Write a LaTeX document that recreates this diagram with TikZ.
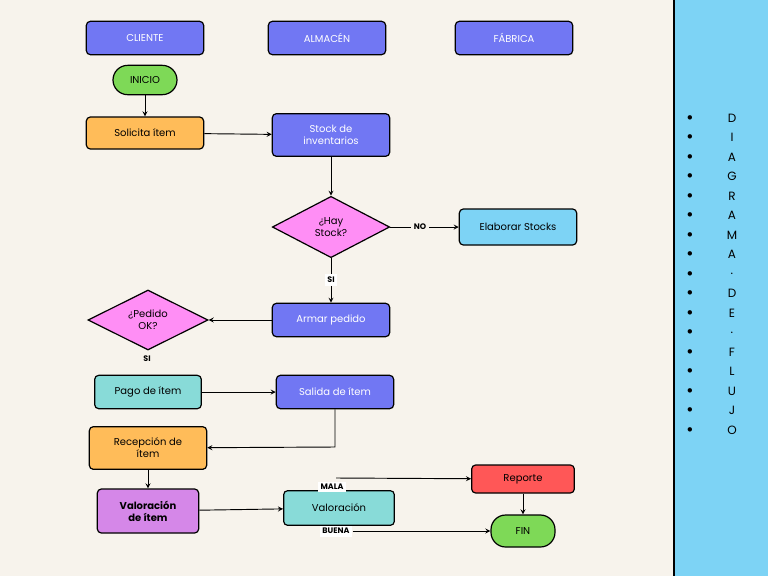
\documentclass[tikz,border=0pt]{standalone}
\usepackage{fontspec}
\setmainfont{Poppins}
\usetikzlibrary{shapes.geometric}
\definecolor{fondo}{HTML}{F7F3EC}
\definecolor{azul}{HTML}{7177F3}
\definecolor{celeste}{HTML}{7DD3F5}
\definecolor{naranja}{HTML}{FFBC59}
\definecolor{verde}{HTML}{7ED957}
\definecolor{rosa}{HTML}{FF8EF5}
\definecolor{turq}{HTML}{88DBD8}
\definecolor{lila}{HTML}{D587E8}
\definecolor{rojo}{HTML}{FF5757}
\tikzset{
  caja/.style={draw=black, line width=0.9pt, rounded corners=3pt, align=center,
    font=\fontsize{7.5}{9}\selectfont, inner sep=2pt},
  titulo/.style={caja, fill=azul, text=white, minimum width=88pt, minimum height=25pt},
  rombo/.style={diamond, draw=black, line width=0.9pt, fill=rosa, aspect=1.9,
    inner sep=0pt, align=center, font=\fontsize{7.5}{9}\selectfont},
  term/.style={caja, fill=verde, rounded corners=11pt},
  etq/.style={fill=white, font=\bfseries\fontsize{6}{7}\selectfont, inner sep=2pt},
  flecha/.style={->, >=stealth, line width=0.7pt}
}
\begin{document}
\begin{tikzpicture}[x=0.75pt, y=-0.75pt]
\fill[fondo] (0,0) rectangle (768,576);
\useasboundingbox (0,0) rectangle (768,576);
\fill[celeste] (674,0) rectangle (768,576);
\draw[line width=1pt] (674,0) -- (674,576);
% encabezados
\node[titulo] (cli) at (145,38) {CLIENTE};
\node[titulo] (alm) at (327,38) {ALMACÉN};
\node[titulo] (fab) at (514,38) {FÁBRICA};
% nodos
\node[term, minimum width=48pt, minimum height=22pt] (ini) at (145,80) {INICIO};
\node[caja, fill=naranja, minimum width=88pt, minimum height=24pt] (sol) at (145,133) {Solicita ítem};
\node[caja, fill=azul, text=white, minimum width=88pt, minimum height=32pt] (stk) at (331,135) {Stock de\\inventarios};
\node[rombo, minimum width=88pt, minimum height=46pt] (hay) at (331,227) {¿Hay\\Stock?};
\node[caja, fill=celeste, minimum width=88pt, minimum height=27pt] (ela) at (518,227) {Elaborar Stocks};
\node[caja, fill=azul, text=white, minimum width=88pt, minimum height=25pt] (arm) at (331,320) {Armar pedido};
\node[rombo, minimum width=90pt, minimum height=45pt] (ped) at (148,320) {¿Pedido\\OK?};
\node[caja, fill=turq, minimum width=80pt, minimum height=25pt] (pag) at (148,392) {Pago de ítem};
\node[caja, fill=azul, text=white, minimum width=88pt, minimum height=25pt] (sal) at (335,392) {Salida de ítem};
\node[caja, fill=naranja, minimum width=88pt, minimum height=32pt] (rec) at (148,448) {Recepción de\\ítem};
\node[caja, fill=lila, minimum width=76pt, minimum height=33pt, font=\bfseries\fontsize{7.5}{9}\selectfont] (vit) at (148,511) {Valoración\\de ítem};
\node[caja, fill=turq, minimum width=83pt, minimum height=26pt] (val) at (339,508) {Valoración};
\node[caja, fill=rojo, minimum width=77pt, minimum height=21pt] (rep) at (523,479) {Reporte};
\node[term, minimum width=48pt, minimum height=24pt] (fin) at (523,531) {FIN};
% etiquetas
\node[etq] (mala) at (332,487) {MALA};
\node[etq] (buena) at (336,531) {BUENA};
\node[etq, fill=none] (no) at (420,227) {NO};
\node[etq] (si1) at (331,280) {SI};
\node[etq, fill=none] (si2) at (147,359) {SI};
\coordinate (m0) at (336,478);
\coordinate (c1) at (335,447);
% conectores
\draw[flecha] (ini) -- (sol);
\draw[flecha] (sol) -- (stk);
\draw[flecha] (stk) -- (hay);
\draw[line width=0.7pt] (hay) -- (no);
\draw[flecha] (no) -- (ela);
\draw[line width=0.7pt] (hay) -- (si1);
\draw[flecha] (si1) -- (arm);
\draw[flecha] (arm) -- (ped);
\draw[flecha] (pag) -- (sal);
\draw[flecha] (sal) -- (c1) -- (rec);
\draw[flecha] (rec) -- (vit);
\draw[flecha] (vit) -- (val);
\draw[flecha] (m0) -- (rep);
\draw[flecha] (buena) -- (fin);
\draw[flecha] (rep) -- (fin);
% lista lateral
\foreach \l [count=\i from 0] in {D,I,A,G,R,A,M,A,.,D,E,.,F,L,U,J,O}{
  \node[font=\fontsize{8}{9}\selectfont] (b\i) at (690,118+19.5*\i) {$\bullet$};
  \node[font=\fontsize{9}{10}\selectfont] (l\i) at (732,118+19.5*\i) {\l};
}
\end{tikzpicture}
\end{document}
